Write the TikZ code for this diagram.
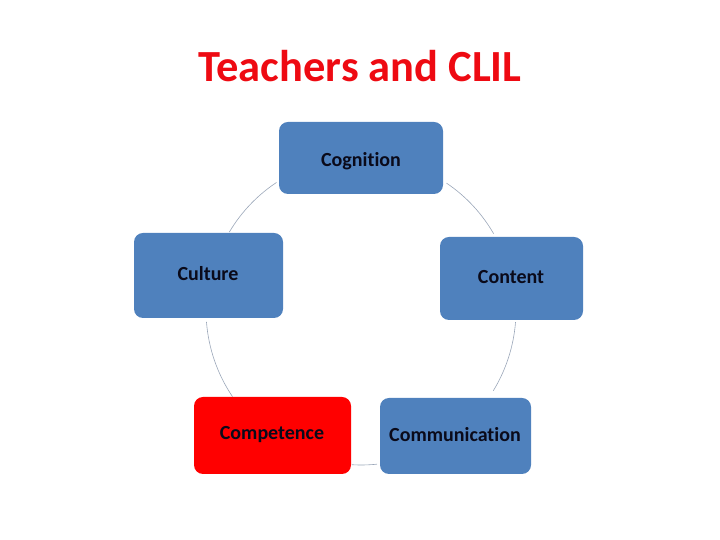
\documentclass[tikz,border=0pt]{standalone}
\usepackage{fontspec}
\setmainfont{Carlito}[Ligatures=NoCommon]
\definecolor{boxblue}{HTML}{4F81BD}
\definecolor{boxred}{HTML}{FF0000}
\definecolor{titlered}{HTML}{EE0A12}
\definecolor{conncol}{HTML}{9AA6B8}
\definecolor{txt}{HTML}{0A0A1A}
\begin{document}
\begin{tikzpicture}[x=1pt,y=1pt,
  cbox/.style={rounded corners=9pt, fill=boxblue, draw=none, inner sep=0pt},
  btxt/.style={font=\fontsize{20}{22}\selectfont\bfseries, text=txt},
  conn/.style={draw=conncol, line width=0.6pt}]
\useasboundingbox (0,0) rectangle (720,540);
\node[font=\fontsize{44.5}{50}\selectfont\bfseries, text=titlered] (title) at (360,474) {Teachers and CLIL};
% boxes: pixel y converted as 540-y
\node[cbox, minimum width=164pt, minimum height=72pt] (cog) at (361,382) {};
\node[btxt] at (361,379) {Cognition};
\node[cbox, minimum width=149pt, minimum height=85pt] (cul) at (208.5,264.5) {};
\node[btxt] at (208,266) {Culture};
\node[cbox, minimum width=143pt, minimum height=83pt] (con) at (511.5,261.5) {};
\node[btxt] at (511,263) {Content};
\node[cbox, fill=boxred, minimum width=157pt, minimum height=77pt] (comp) at (272.5,104.5) {};
\node[btxt] at (272,105) {Competence};
\node[cbox, minimum width=151pt, minimum height=76pt] (comm) at (455.5,104) {};
\node[btxt] at (455,105) {Communication};
% circle arcs
\coordinate (o) at (361,230);
\draw[conn] ([shift={(123.5:153)}]o) arc[start angle=123.5, end angle=149.4, radius=153];
\draw[conn] ([shift={(56:153)}]o) arc[start angle=56, end angle=29.9, radius=153];
\draw[conn] ([shift={(184.4:155)}]o) arc[start angle=184.4, end angle=214, radius=155];
\draw[conn] ([shift={(-4.5:155)}]o) arc[start angle=-4.5, end angle=-31.4, radius=155];
\draw[conn] ([shift={(266.6:155)}]o) arc[start angle=266.6, end angle=276, radius=155];
\end{tikzpicture}
\end{document}
